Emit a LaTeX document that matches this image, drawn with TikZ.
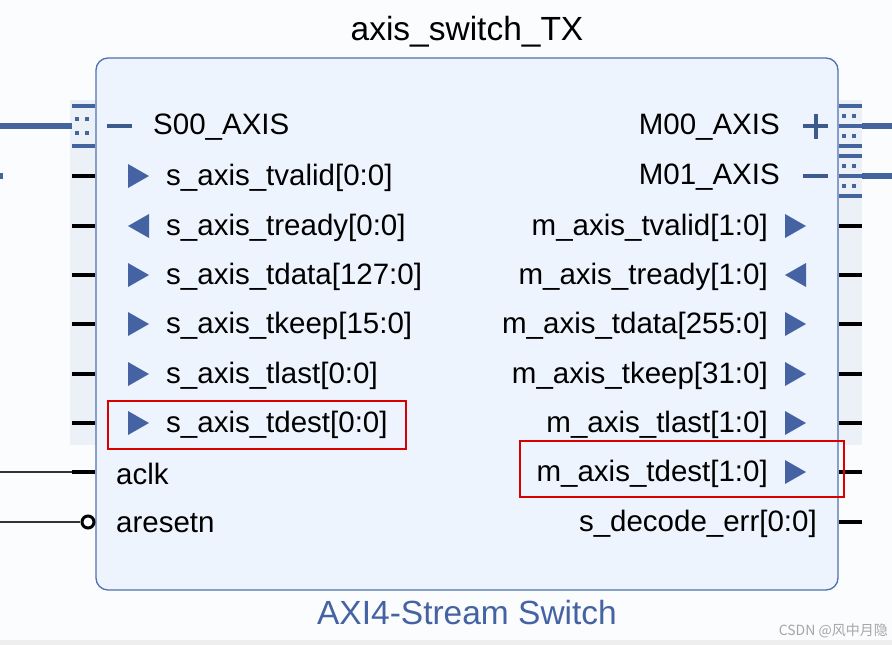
\documentclass[tikz,border=0pt]{standalone}
\usepackage{fontspec}
\setmainfont{Liberation Sans}
\newfontfamily\cjk{Noto Sans CJK SC}
\begin{document}
\begin{tikzpicture}[x=1pt,y=-1pt,
  every node/.style={inner sep=0pt,font=\fontsize{29.5}{34}\selectfont},
  big/.style={font=\fontsize{33.5}{38}\selectfont},
  stub/.style={line width=4pt,black},
  redbox/.style={draw=red!85!black,line width=1.2pt}]
\definecolor{busblue}{HTML}{44649F}
\definecolor{triblue}{HTML}{4563A3}
\definecolor{boxfill}{HTML}{EEF4FD}
\definecolor{boxline}{HTML}{5070B0}
\definecolor{bgw}{HTML}{FAFCFE}
\definecolor{bgband}{HTML}{ECF1F8}
\definecolor{bgbot}{HTML}{EEEEEE}
\path[use as bounding box,fill=bgw] (0,0) rectangle (892,645);
\fill[bgband] (70,100) rectangle (862,445);
\fill[bgbot] (0,640) rectangle (892,645);
\node (box) [draw=boxline,line width=1.3pt,fill=boxfill,rounded corners=12pt,minimum width=742pt,minimum height=532pt] at (467,324) {};
\node (title) [big] at (467,32) {axis\_switch\_TX};
\node (sub) [big,text=triblue] at (467,613) {AXI4-Stream Switch};
\node (wm) [text=gray!70,font=\cjk\fontsize{14}{16}\selectfont,anchor=east] at (888,631) {CSDN @风中月隐};
% bus icons
\foreach \y in {106,146} \fill[busblue] (72,\y-2) rectangle (95,\y+2);
\foreach \y in {119,133} \foreach \x in {77,87} \fill[busblue] (\x-2,\y-2) rectangle (\x+2,\y+2);
\fill[busblue] (0,123) rectangle (72,129);
\fill[busblue] (0,173) rectangle (3,179);
\foreach \y in {106,126,146,156,176,196} \fill[busblue] (839,\y-2) rectangle (862,\y+2);
\foreach \y in {116,136,166,186} \foreach \x in {844,854} \fill[busblue] (\x-2,\y-2) rectangle (\x+2,\y+2);
\fill[busblue] (862,123) rectangle (892,129);
\fill[busblue] (862,173) rectangle (892,179);
\fill[busblue!90!black] (107,124) rectangle (132,128);
\fill[busblue!90!black] (803,124) rectangle (828,128);
\fill[busblue!90!black] (813.5,114) rectangle (817.5,139);
\fill[busblue!90!black] (803,174) rectangle (828,178);
\node (s00) [anchor=west] at (153,127) {S00\_AXIS};
\node (m00) [anchor=east] at (780,127) {M00\_AXIS};
\node (m01) [anchor=east] at (780,177) {M01\_AXIS};
% left pins
\foreach \y/\t/\d in {176/s\_axis\_tvalid[0:0]/1,226/s\_axis\_tready[0:0]/0,275/s\_axis\_tdata[127:0]/1,324/s\_axis\_tkeep[15:0]/1,374/s\_axis\_tlast[0:0]/1,423/s\_axis\_tdest[0:0]/1}{
  \draw[stub] (72,\y) -- (95,\y);
  \ifnum\d=1 \fill[triblue] (128,\y-12) -- (149,\y) -- (128,\y+12) -- cycle;
  \else \fill[triblue] (149,\y-12) -- (128,\y) -- (149,\y+12) -- cycle; \fi
  \node[anchor=west] at (166,\y+1.5) {\t};
}
% right pins
\foreach \y/\t/\d in {226/m\_axis\_tvalid[1:0]/1,275/m\_axis\_tready[1:0]/0,324/m\_axis\_tdata[255:0]/1,374/m\_axis\_tkeep[31:0]/1,423/m\_axis\_tlast[1:0]/1,472/m\_axis\_tdest[1:0]/1}{
  \draw[stub] (839,\y) -- (862,\y);
  \ifnum\d=1 \fill[triblue] (785,\y-12) -- (806,\y) -- (785,\y+12) -- cycle;
  \else \fill[triblue] (806,\y-12) -- (785,\y) -- (806,\y+12) -- cycle; \fi
  \node[anchor=east] at (768,\y+1.5) {\t};
}
\draw[stub] (839,522) -- (862,522);
\node (err) [anchor=east] at (817,523.5) {s\_decode\_err[0:0]};
% clock/reset
\draw[line width=1.5pt,black!80] (0,472) -- (72,472);
\draw[stub] (72,472) -- (95,472);
\node (aclk) [anchor=west] at (116,473.5) {aclk};
\draw[line width=1.5pt,black!80] (0,522) -- (80,522);
\draw[line width=3pt] (88,522) circle (6);
\node (arst) [anchor=west] at (116,523.5) {aresetn};
\draw[redbox] (108,401) rectangle (406,449);
\draw[redbox] (520,441) rectangle (844,497);
\end{tikzpicture}
\end{document}
